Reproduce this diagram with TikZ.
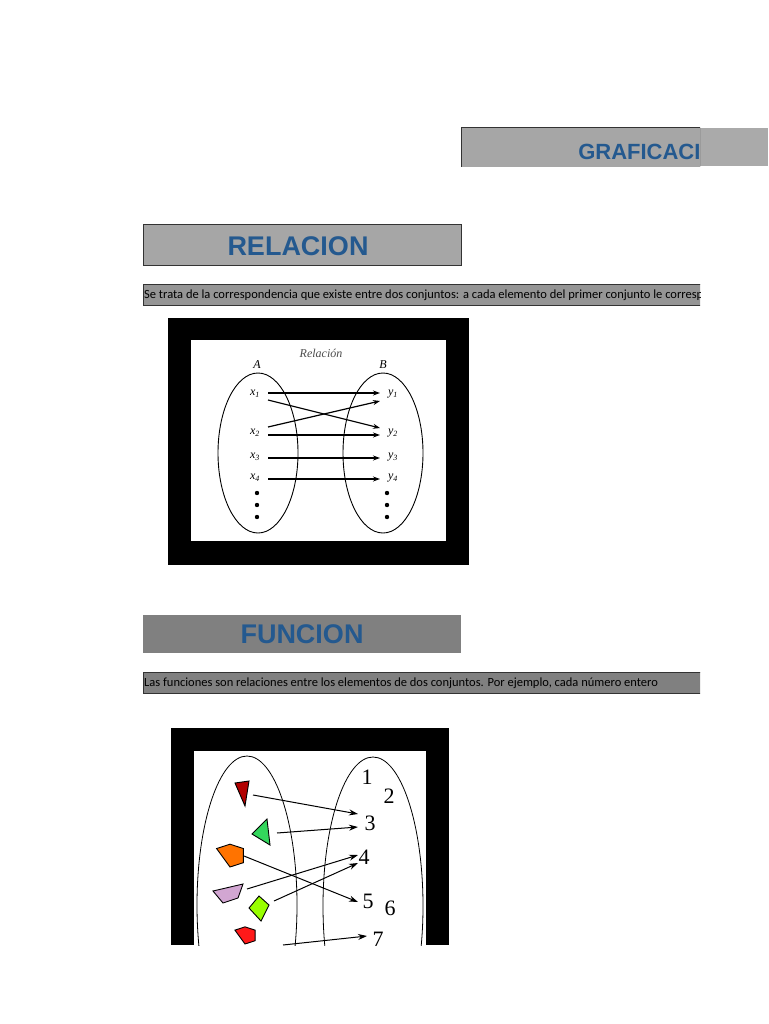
\documentclass[tikz,border=0pt]{standalone}
\usepackage{fontspec}
\setmainfont{Liberation Serif}
\setsansfont{Liberation Sans}
\newfontfamily\carlitofont{Carlito}
\usetikzlibrary{arrows.meta}
\definecolor{hblue}{HTML}{24598F}
\definecolor{gA}{HTML}{A6A6A6}
\definecolor{gB}{HTML}{808080}
\tikzset{
 hdr/.style={font=\sffamily\bfseries\fontsize{27}{30}\selectfont,text=hblue},
 strip/.style={font=\carlitofont\fontsize{12.5}{14}\selectfont,anchor=west,inner sep=0pt},
 rel/.style={font=\itshape\fontsize{12}{14}\selectfont},
 ra/.style={-{Stealth[length=7pt,width=5pt]},line width=1.2pt},
 fa/.style={-{Stealth[length=9pt,width=6pt]},line width=1pt},
 num/.style={font=\fontsize{22}{24}\selectfont},
 shp/.style={draw=black,line width=0.9pt}
}
\begin{document}
\begin{tikzpicture}[x=1pt,y=-1pt]
\useasboundingbox[fill=white] (0,0) rectangle (768,1024);
% GRAFICAC
\fill[gA!95!white] (700,128) rectangle (768,166);
\begin{scope}
\clip (461,127) rectangle (700,167);
\draw[fill=gA,draw=black!80] (461,127) rectangle (700,167);
\node[hdr,anchor=east,font=\sffamily\bfseries\fontsize{22}{24}\selectfont] (gt) at (737,152) {GRAFICACION};
\end{scope}
% RELACION
\draw[fill=gA,draw=black!80] (143,224) rectangle (461,265);
\node[hdr] (rt) at (298,246) {RELACION};
\begin{scope}
\clip (142,283) rectangle (700,306);
\draw[fill=gA!90!black,draw=black!80] (143,284) rectangle (710,305);
\node[strip] (rs) at (144,295) {Se trata de la correspondencia que existe entre dos conjuntos: a cada elemento del primer conjunto le corresponde};
\end{scope}
% relation image
\fill[black] (168,318) rectangle (469,565);
\fill[white] (191,340) rectangle (446,541);
\node[rel,text=black!70] (tit) at (321,353) {Relación};
\node[rel] (A) at (257,365) {A};
\node[rel] (B) at (383,365) {B};
\draw[line width=0.9pt] (258,453) ellipse [x radius=40, y radius=80];
\draw[line width=0.9pt] (383,453) ellipse [x radius=40, y radius=80];
\foreach \n/\y in {1/394,2/433,3/457,4/478}{
 \node[rel] (x\n) at (255,\y) {x\textsubscript{\n}};
 \node[rel] (y\n) at (393,\y) {y\textsubscript{\n}};
}
\coordinate (a1) at (268,393); \coordinate (b1) at (380,393);
\coordinate (a2) at (268,400); \coordinate (b2) at (380,428);
\coordinate (a3) at (268,427); \coordinate (b3) at (380,401);
\coordinate (a4) at (268,435); \coordinate (b4) at (380,435);
\coordinate (a5) at (268,458); \coordinate (b5) at (380,458);
\coordinate (a6) at (268,479); \coordinate (b6) at (380,479);
\foreach \i in {1,...,6}{\draw[ra] (a\i) -- (b\i);}
\foreach \y in {493,505,517}{\fill (257,\y) circle (2.2); \fill (387,\y) circle (2.2);}
% FUNCION
\fill[gB] (143,615) rectangle (461,653);
\node[hdr] (ft) at (302,634) {FUNCION};
\begin{scope}
\clip (142,671) rectangle (700,694);
\draw[fill=gB,draw=black!80] (143,672) rectangle (710,693);
\node[strip] (fs) at (144,683) {Las funciones son relaciones entre los elementos de dos conjuntos. Por ejemplo, cada número entero};
\end{scope}
% function image
\fill[black] (171,728) rectangle (449,945);
\begin{scope}
\clip (194,751) rectangle (426,945);
\fill[white] (194,751) rectangle (426,945);
\draw[line width=0.8pt] (247,905) ellipse [x radius=50, y radius=149];
\draw[line width=0.8pt] (373,906) ellipse [x radius=50, y radius=149];
\node[num] (n1) at (367,777) {1};
\node[num] (n2) at (389,796) {2};
\node[num] (n3) at (370,823) {3};
\node[num] (n4) at (364,857) {4};
\node[num] (n5) at (368,901) {5};
\node[num] (n6) at (390,908) {6};
\node[num] (n7) at (378,939) {7};
\draw[shp,fill=red!70!black] (235,783) -- (249,781) -- (245,806) -- cycle;
\draw[shp,fill=green!60!teal!80] (252,834) -- (267,819) -- (270,845) -- cycle;
\draw[shp,fill=orange!90!red] (230,855) ++(90:12) -- ++(-18:14.1) -- ++(-90:14.1) -- ++(-162:14.1) -- ++(162:14.1) -- cycle;
\draw[shp,fill=violet!35] (213,891) -- (243,884) -- (238,898) -- (223,903) -- cycle;
\draw[shp,fill=lime!80!green] (249,908) -- (259,896) -- (269,905) -- (261,921) -- cycle;
\draw[shp,fill=red!90] (245,935) ++(90:9) -- ++(-18:10.6) -- ++(-90:10.6) -- ++(-162:10.6) -- ++(162:10.6) -- cycle;
\coordinate (s1) at (253,795); \coordinate (t1) at (358,814);
\coordinate (s2) at (277,833); \coordinate (t2) at (358,827);
\coordinate (s3) at (244,856); \coordinate (t3) at (358,902);
\coordinate (s4) at (247,889); \coordinate (t4) at (358,855);
\coordinate (s5) at (274,901); \coordinate (t5) at (358,863);
\coordinate (s6) at (283,945); \coordinate (t6) at (367,936);
\foreach \i in {1,...,6}{\draw[fa] (s\i) -- (t\i);}
\end{scope}
\end{tikzpicture}
\end{document}
